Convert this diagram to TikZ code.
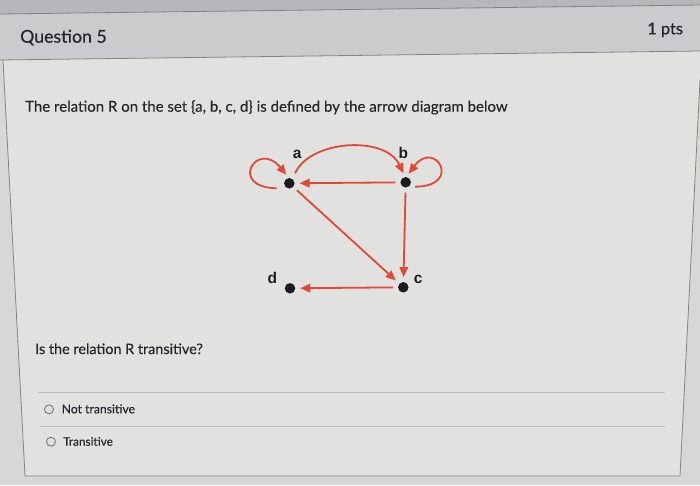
\documentclass[tikz,border=0pt]{standalone}
\usepackage{fontspec}
\setmainfont{Lato}[FakeBold=0.35]
\newfontfamily\lblfont{Liberation Sans}
\usetikzlibrary{arrows.meta,calc}
\definecolor{relred}{RGB}{226,72,52}
\definecolor{outerc}{RGB}{214,215,214}
\definecolor{topc}{RGB}{182,183,187}
\definecolor{headc}{RGB}{203,203,206}
\definecolor{bodyc}{RGB}{225,226,224}
\definecolor{framec}{RGB}{130,131,134}
\definecolor{sepc}{RGB}{186,188,186}
\definecolor{txtc}{RGB}{36,38,42}
\definecolor{dotc}{RGB}{28,28,28}
\definecolor{radioc}{RGB}{120,122,122}
\tikzset{
  rel/.style={draw=relred, line width=1.8pt, -{Triangle[length=10pt,width=8.5pt]}},
  dot/.style={circle, fill=dotc, minimum size=10.5pt, inner sep=0pt, outer sep=5pt},
  lbl/.style={font=\lblfont\bfseries\fontsize{15.5}{18}\selectfont, text=dotc, inner sep=0pt},
  txt/.style={anchor=base west, inner sep=0pt, text=txtc},
  radio/.style={circle, draw=radioc, line width=0.9pt, fill=bodyc, minimum size=9pt, inner sep=0pt},
  frameline/.style={draw=framec, line width=0.8pt},
  sepline/.style={draw=sepc, line width=0.8pt}
}
\begin{document}
\begin{tikzpicture}[x=1pt,y=1pt]
\useasboundingbox (0,0) rectangle (700,-485);
% backgrounds
\fill[outerc] (0,0) rectangle (700,-485);
\fill[topc] (0,0) -- (700,0) -- (700,-5) -- (0,-14) -- cycle;
\fill[headc] (0,-14) -- (700,-5) -- (700,-51) -- (0,-60) -- cycle;
\fill[bodyc] (3,-60) -- (700,-51) -- (700,-80) -- (680,-476) -- (25,-476) -- cycle;
% frame lines
\draw[frameline] (0,-14) -- (700,-5);
\draw[frameline] (0,-60) -- (700,-51);
\draw[frameline] (3,-60) -- (25,-476) -- (680,-476) -- (700,-80);
% header texts
\node[txt, font=\fontsize{17.7}{20}\selectfont] (q5) at (20,-42.7) {Question 5};
\node[txt, font=\fontsize{16.4}{19}\selectfont] (pts) at (647,-34.3) {1 pts};
% question text
\node[txt, font=\fontsize{15}{18}\selectfont] (stmt) at (25,-111.7) {The relation R on the set \{a, b, c, d\} is defined by the arrow diagram below};
\node[txt, font=\fontsize{14.4}{17}\selectfont] (ask) at (35,-354) {Is the relation R transitive?};
% separators
\draw[sepline] (38,-392) -- (665,-392);
\draw[sepline] (40,-426.5) -- (665,-426.5);
% options
\node[radio] (r1) at (49,-409.3) {};
\node[radio] (r2) at (51,-441.7) {};
\node[txt, font=\fontsize{12.2}{14}\selectfont] (o1) at (61.5,-413.3) {Not transitive};
\node[txt, font=\fontsize{11.8}{14}\selectfont] (o2) at (63,-445.7) {Transitive};
% diagram
\node[dot] (a) at (289.3,-183.3) {};
\node[dot] (b) at (405.7,-182.3) {};
\node[dot] (c) at (403.3,-287.3) {};
\node[dot] (d) at (290,-288.3) {};
\node[lbl] (la) at (297.3,-154) {a};
\node[lbl] (lb) at (403.3,-152.7) {b};
\node[lbl] (lc) at (418.3,-279) {c};
\node[lbl] (ld) at (272.3,-278.3) {d};
\draw[rel] (b) -- (a);
\draw[rel] (a) -- (c);
\draw[rel] (b) -- (c);
\draw[rel] (c) -- (d);
\draw[rel] ([shift={(5.7,10)}]a.center) .. controls ([shift={(20.7,43.3)}]a.center) and ([shift={(-20.7,47.3)}]b.center) .. ([shift={(-2.2,9)}]b.center);
\draw[rel] ([shift={(-12.6,-5)}]a.center) .. controls ([shift={(-62,-4)}]a.center) and ([shift={(-32,44)}]a.center) .. ([shift={(-3,8.5)}]a.center);
\draw[rel] ([shift={(9.3,-4.4)}]b.center) .. controls ([shift={(58,-4)}]b.center) and ([shift={(29,44)}]b.center) .. ([shift={(3,8.5)}]b.center);
\end{tikzpicture}
\end{document}
